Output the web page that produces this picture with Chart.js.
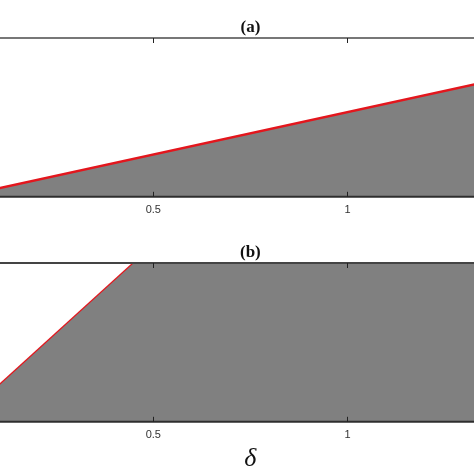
<!DOCTYPE html>
<html>
<head>
<meta charset="utf-8">
<script src="https://cdn.jsdelivr.net/npm/chart.js@4"></script>
<style>
html,body{margin:0;padding:0;background:#fff;width:474px;height:474px;overflow:hidden;position:relative;}
canvas{position:absolute;left:0;}
#ca{top:0;}
#cb{top:225px;}
</style>
</head>
<body>
<canvas id="ca" width="474" height="224"></canvas>
<canvas id="cb" width="474" height="249"></canvas>
<script>
// ---- data ----
const deltaTicks = [0.5, 1];
const deltaRange = [0.105, 1.326];   // visible part of the delta axis
const fullDomain = [0, 1.5];         // full delta domain (titles are centred on it)
// panel (a): boundary of the shaded region
const deltaA = [0, 1.5];
const boundA = [0, 0.80];
// panel (b): shaded region boundary and red boundary line
const deltaB = [0, 0.45, 1.5];
const regionB = [0, 1, 1];
const lineDeltaB = [0, 0.45];
const lineValueB = [0, 1];

Chart.defaults.font.family = 'Liberation Sans';

const frame = {
  id: 'frame',
  afterDatasetsDraw(chart, args, opts) {
    const {ctx, chartArea: {left, right, top, bottom}, scales: {x}} = chart;
    const midX = x.getPixelForValue((fullDomain[0] + fullDomain[1]) / 2);
    ctx.save();
    ctx.lineWidth = 2;
    ctx.strokeStyle = opts.topColor;
    ctx.beginPath(); ctx.moveTo(left, top); ctx.lineTo(right, top); ctx.stroke();
    ctx.strokeStyle = '#2e2e2e';
    ctx.beginPath(); ctx.moveTo(left, bottom); ctx.lineTo(right, bottom); ctx.stroke();
    ctx.lineWidth = 1;
    ctx.strokeStyle = '#222';
    ctx.beginPath();
    x.ticks.forEach(t => {
      const px = Math.round(x.getPixelForValue(t.value)) + 0.5;
      ctx.moveTo(px, top); ctx.lineTo(px, top + 5);
      ctx.moveTo(px, bottom); ctx.lineTo(px, bottom - 5);
    });
    ctx.stroke();
    ctx.fillStyle = '#111';
    ctx.textAlign = 'center';
    ctx.textBaseline = 'middle';
    // panel title centred over the full delta domain
    ctx.font = 'bold 17px "Liberation Serif"';
    ctx.fillText(opts.title, midX, top - 10);
    // axis title
    if (opts.axisTitle) {
      ctx.font = 'italic 26px "Liberation Serif"';
      ctx.fillText(opts.axisTitle, midX, bottom + 37);
    }
    ctx.restore();
  }
};

function pts(xs, ys) { return xs.map((v, i) => ({x: v, y: ys[i]})); }

function makeOptions(title, topColor, axisTitle, bottomPad) {
  return {
    responsive: false,
    animation: false,
    layout: {padding: {top: 38, left: 0, right: 0, bottom: bottomPad}},
    plugins: {
      legend: {display: false},
      tooltip: {enabled: false},
      title: {display: false},
      frame: {topColor: topColor, title: title, axisTitle: axisTitle}
    },
    scales: {
      x: {
        type: 'linear', min: deltaRange[0], max: deltaRange[1],
        afterBuildTicks: s => { s.ticks = deltaTicks.map(v => ({value: v})); },
        ticks: {padding: 7, color: '#333', font: {size: 11}, callback: v => String(v)},
        grid: {display: false, drawTicks: false},
        border: {display: false}
      },
      y: {type: 'linear', min: 0, max: 1, display: false}
    }
  };
}

new Chart(document.getElementById('ca'), {
  type: 'scatter',
  data: {
    datasets: [{
      data: pts(deltaA, boundA), showLine: true, fill: 'origin',
      backgroundColor: '#808080', borderColor: '#e3161d', borderWidth: 2.5,
      pointRadius: 0
    }]
  },
  options: makeOptions('(a)', '#777', null, 0),
  plugins: [frame]
});

new Chart(document.getElementById('cb'), {
  type: 'scatter',
  data: {
    datasets: [{
      data: pts(deltaB, regionB), showLine: true, fill: 'origin',
      backgroundColor: '#808080', borderWidth: 0, pointRadius: 0
    }, {
      data: pts(lineDeltaB, lineValueB), showLine: true, fill: false,
      borderColor: '#e3161d', borderWidth: 2.5, pointRadius: 0
    }]
  },
  options: makeOptions('(b)', '#444', 'δ', 25),
  plugins: [frame]
});
</script>
</body>
</html>
